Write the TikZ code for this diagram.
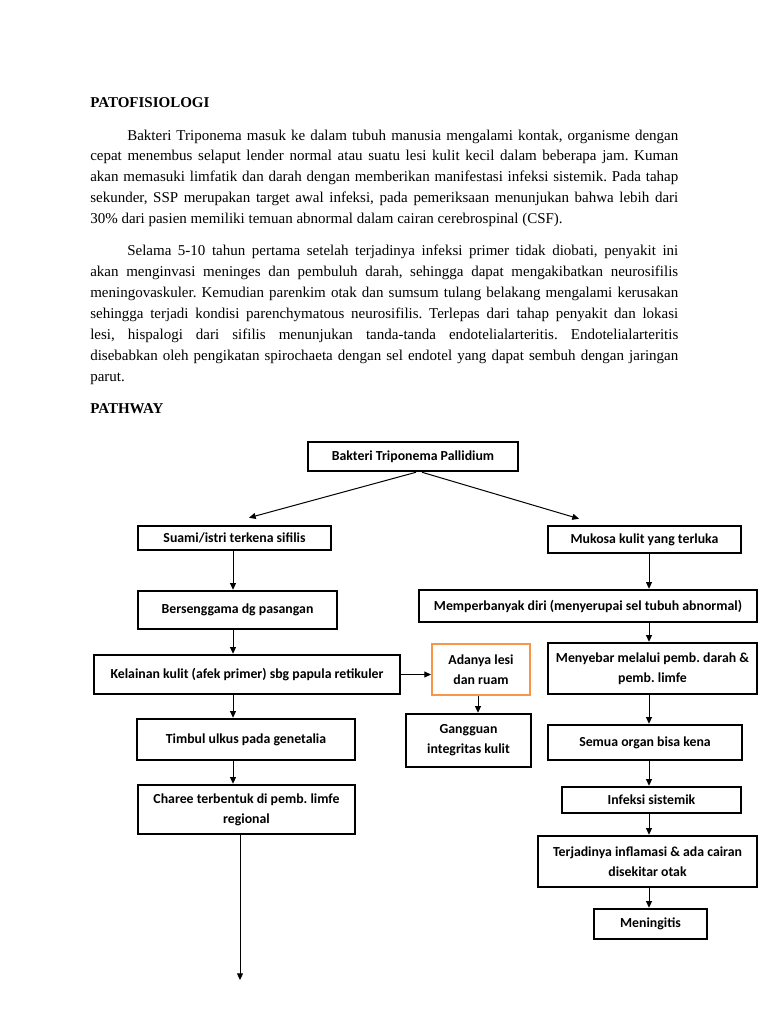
\documentclass[tikz,border=0pt]{standalone}
\usepackage{fontspec}
\setmainfont{Liberation Serif}
\newfontfamily\boxfont{Carlito}
\usetikzlibrary{arrows.meta,calc}
\definecolor{boxorange}{HTML}{F79646}
\frenchspacing
\begin{document}
\begin{tikzpicture}[x=0.75pt,y=-0.75pt,
  pbox/.style={draw=black,line width=1.9pt,fill=white,inner sep=0pt,align=center,
    font=\boxfont\bfseries\fontsize{10.35pt}{14.8pt}\selectfont},
  arr/.style={draw=black,line width=0.75pt,-{Triangle[length=5pt,width=4.5pt]}},
  para/.style={anchor=base west,inner sep=0pt,text width=441pt,align=justify,
    font=\frenchspacing\fontsize{11.25pt}{15.7pt}\selectfont},
  head/.style={anchor=base west,inner sep=0pt,font=\bfseries\fontsize{11.25pt}{15.7pt}\selectfont}]
\useasboundingbox[fill=white] (0,0) rectangle (768,1024);

% ---------- text ----------
\node[head] (h1) at (90,107.5) {PATOFISIOLOGI};
\node[para] (p1) at (90,140) {\hspace*{27.75pt}Bakteri Triponema masuk ke dalam tubuh manusia mengalami kontak, organisme dengan\linebreak
cepat menembus selaput lender normal atau suatu lesi kulit kecil dalam beberapa jam. Kuman\linebreak
akan memasuki limfatik dan darah dengan memberikan manifestasi infeksi sistemik. Pada tahap\linebreak
sekunder, SSP merupakan target awal infeksi, pada pemeriksaan menunjukan bahwa lebih dari\linebreak
30\% dari pasien memiliki temuan abnormal dalam cairan cerebrospinal (CSF).};
\node[para] (p2) at (90,255.5) {\hspace*{27.75pt}Selama 5-10 tahun pertama setelah terjadinya infeksi primer tidak diobati, penyakit ini\linebreak
akan menginvasi meninges dan pembuluh darah, sehingga dapat mengakibatkan neurosifilis\linebreak
meningovaskuler. Kemudian parenkim otak dan sumsum tulang belakang mengalami kerusakan\linebreak
sehingga terjadi kondisi parenchymatous neurosifilis. Terlepas dari tahap penyakit dan lokasi\linebreak
lesi, hispalogi dari sifilis menunjukan tanda-tanda endotelialarteritis. Endotelialarteritis\linebreak
disebabkan oleh pengikatan spirochaeta dengan sel endotel yang dapat sembuh dengan jaringan\linebreak
parut.};
\node[head] (h2) at (90,413.5) {PATHWAY};

% ---------- boxes ----------
\node[pbox,minimum width=157.5pt,minimum height=21.75pt] (bak) at (413,456.5) {Bakteri Triponema Pallidium};
\node[pbox,minimum width=144.75pt,minimum height=18pt] (suami) at (234.5,538) {Suami/istri terkena sifilis};
\node[pbox,minimum width=144.75pt,minimum height=20.25pt] (muk) at (644.5,539.5) {Mukosa kulit yang terluka};
\node[pbox,minimum width=149.25pt,minimum height=28.5pt] (bers) at (237.5,610) {Bersenggama dg pasangan};
\node[pbox,minimum width=253.5pt,minimum height=24pt] (memp) at (588,606) {Memperbanyak diri (menyerupai sel tubuh abnormal)};
\node[pbox,minimum width=229.5pt,minimum height=29.25pt] (kel) at (247,674.5) {Kelainan kulit (afek primer) sbg papula retikuler};
\node[pbox,draw=boxorange,line width=1.6pt,minimum width=73.5pt,minimum height=38.25pt] (ada) at (481,669.5) {Adanya lesi\\dan ruam};
\node[pbox,minimum width=156.75pt,minimum height=38.25pt] (meny) at (652.5,668.5) {Menyebar melalui pemb. darah \&\\pemb. limfe};
\node[pbox,minimum width=93.75pt,minimum height=39.75pt] (gang) at (468.5,740.5) {Gangguan\\integritas kulit};
\node[pbox,minimum width=163.5pt,minimum height=30.75pt] (timbul) at (246,739.5) {Timbul ulkus pada genetalia};
\node[pbox,minimum width=145.5pt,minimum height=26.25pt] (semua) at (645,742.5) {Semua organ bisa kena};
\node[pbox,minimum width=162.75pt,minimum height=36.75pt] (charee) at (246.5,809.5) {Charee terbentuk di pemb. limfe\\regional};
\node[pbox,minimum width=134.25pt,minimum height=19.5pt] (infeksi) at (651.5,800) {Infeksi sistemik};
\node[pbox,minimum width=164.25pt,minimum height=38.25pt] (terj) at (647.5,861.5) {Terjadinya inflamasi \& ada cairan\\disekitar otak};
\node[pbox,minimum width=84.75pt,minimum height=22.5pt] (men) at (650.5,924) {Meningitis};

% ---------- helper coordinates ----------
\coordinate (cL) at (233,0);
\coordinate (cR) at (649,0);
\coordinate (cA) at (478,0);
\coordinate (sL) at (416,0);
\coordinate (sR) at (422,0);
\coordinate (endL) at (240,980);

% ---------- connectors ----------
\draw[arr] (bak.south -| sL) -- ($(suami.north)+(14.5,-7)$);
\draw[arr] (bak.south -| sR) -- ($(muk.north)+(-65.5,-6)$);
\draw[arr] (suami.south -| cL) -- (bers.north -| cL);
\draw[arr] (bers.south -| cL) -- (kel.north -| cL);
\draw[arr] (kel.south -| cL) -- (timbul.north -| cL);
\draw[arr] (timbul.south -| cL) -- (charee.north -| cL);
\draw[arr] (charee.south -| endL) -- (endL);
\draw[arr] (kel.east) -- (kel.east -| ada.west);
\draw[arr] (ada.south -| cA) -- (gang.north -| cA);
\draw[arr] (muk.south -| cR) -- (memp.north -| cR);
\draw[arr] (memp.south -| cR) -- (meny.north -| cR);
\draw[arr] (meny.south -| cR) -- (semua.north -| cR);
\draw[arr] (semua.south -| cR) -- (infeksi.north -| cR);
\draw[arr] (infeksi.south -| cR) -- (terj.north -| cR);
\draw[arr] (terj.south -| cR) -- (men.north -| cR);
\end{tikzpicture}
\end{document}
